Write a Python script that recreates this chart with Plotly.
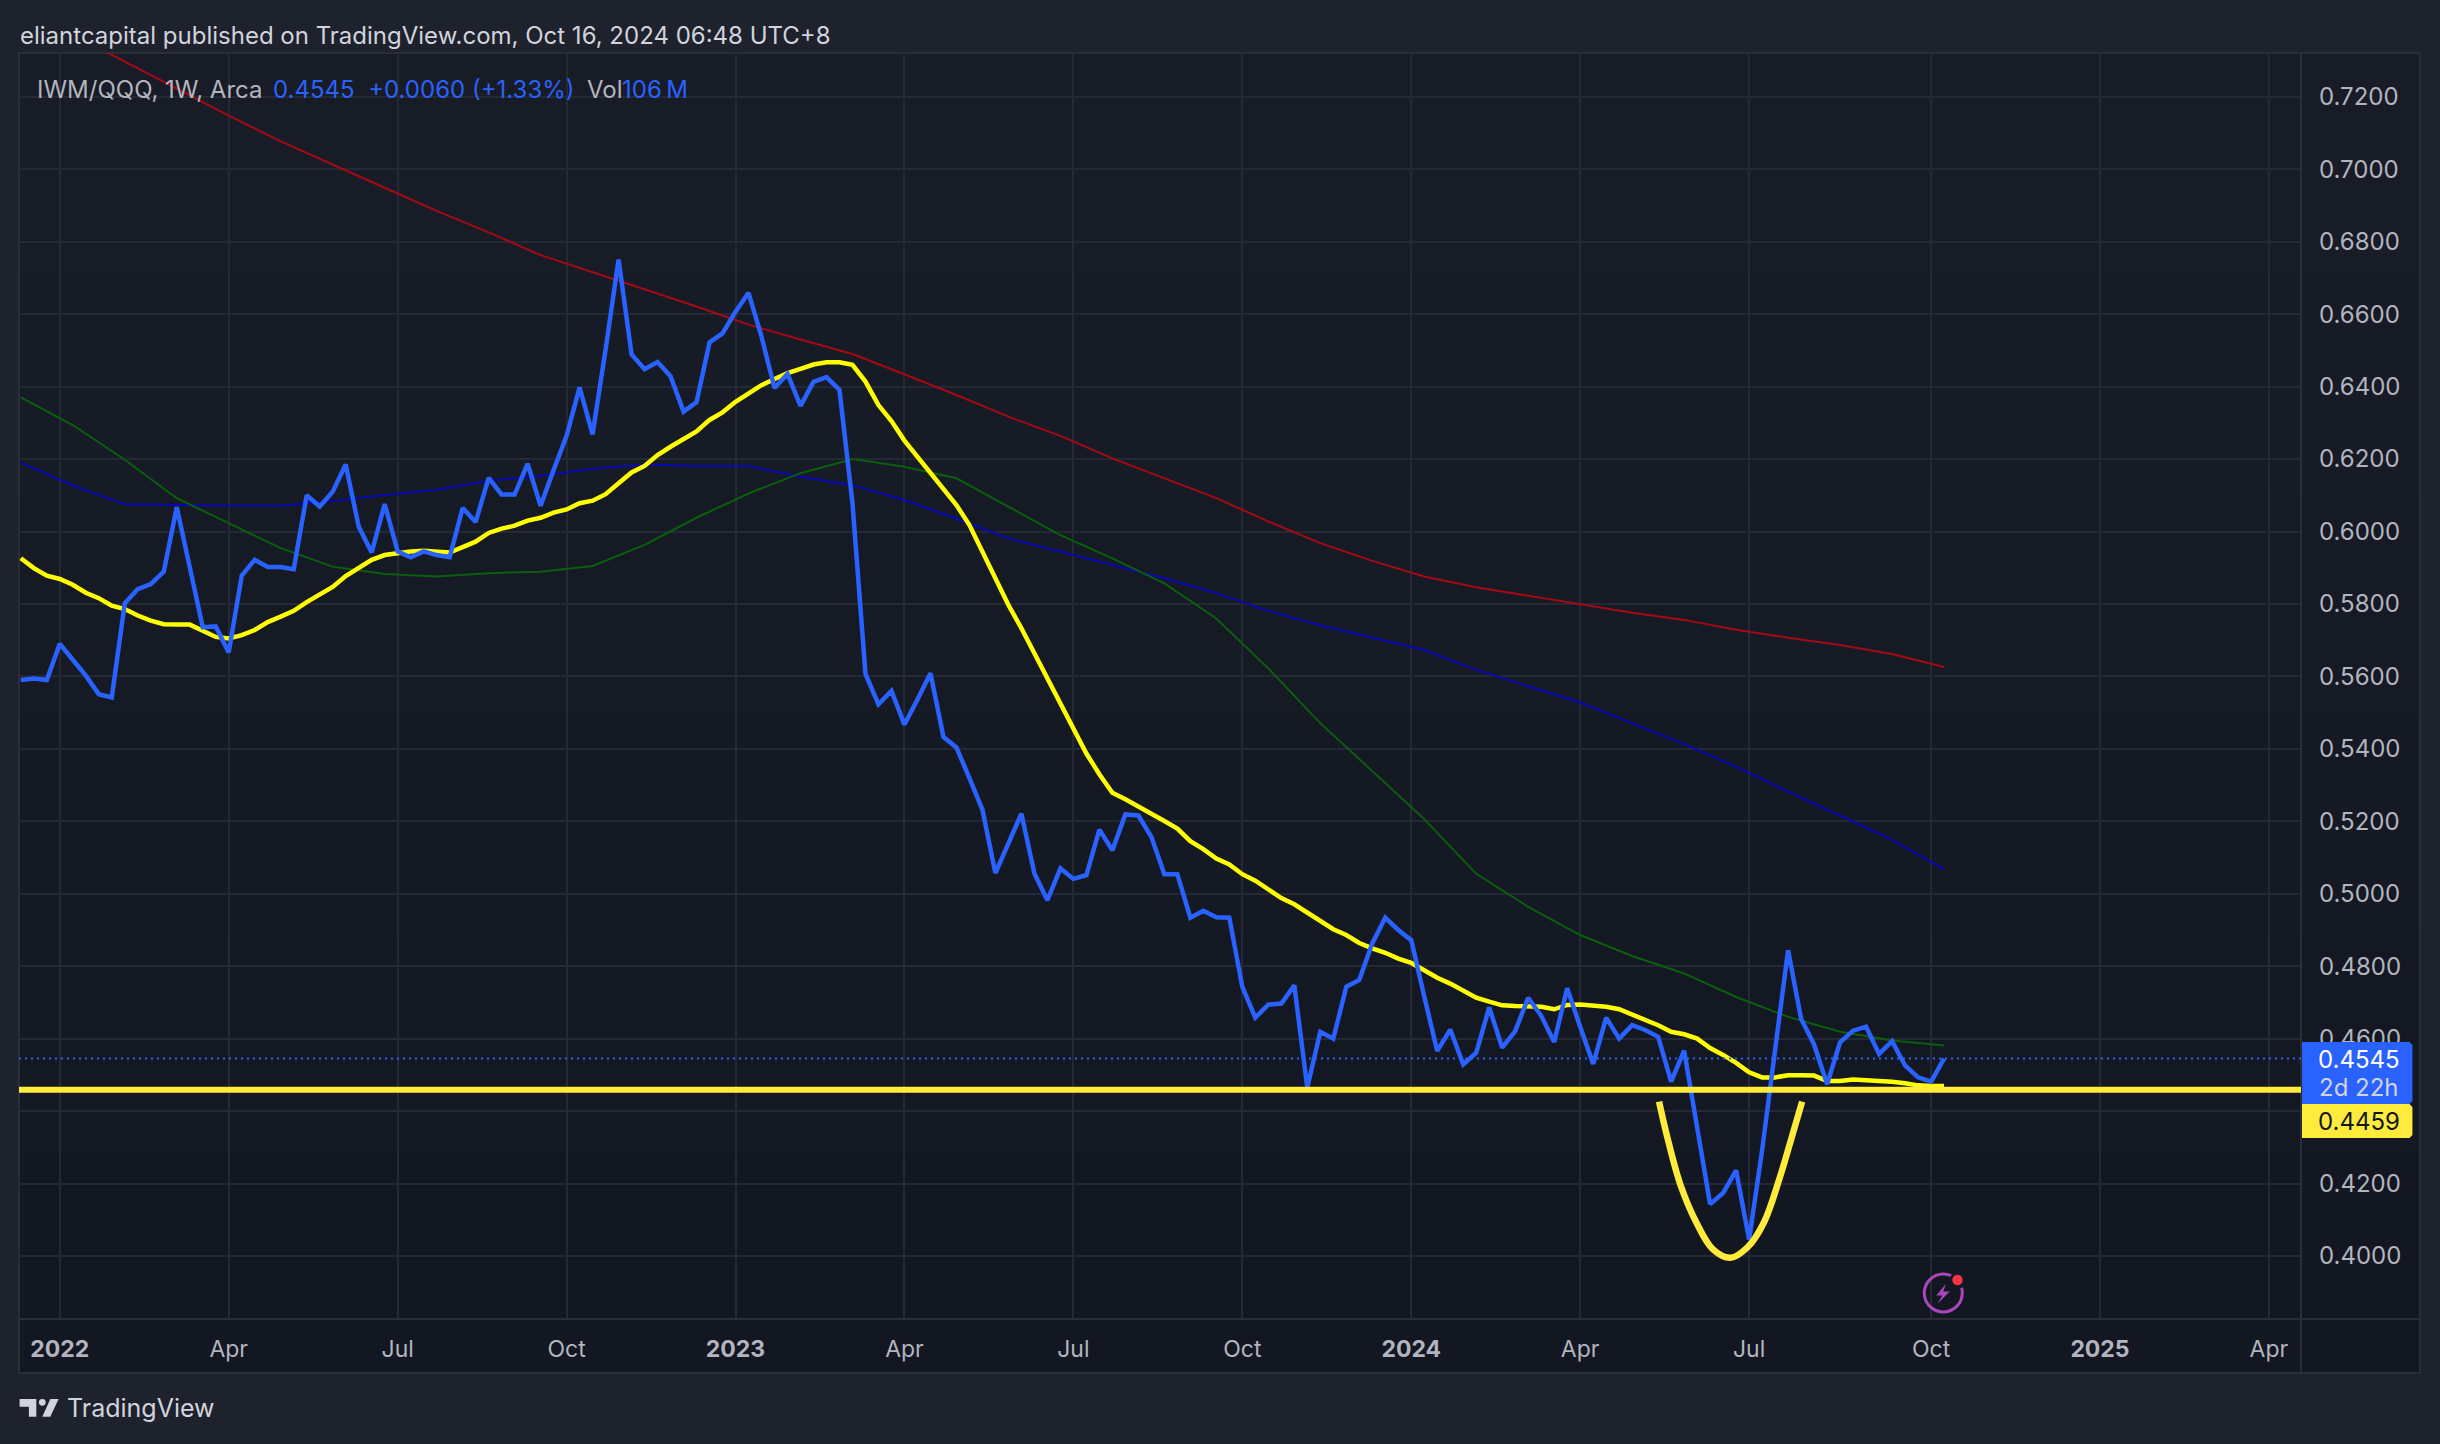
import plotly.graph_objects as go

# ---- data (week index 0 = first bar of 2022) ----
weeks = list(range(-3, 146))
price = [.559,.5594,.559,
 .569,.5646,.5602,.5551,.5542,.5802,.5841,.5855,.5889,.6067,
 .5894,.5736,.5738,.5666,.5878,.5922,.5902,.5902,.5896,.61,
 .6069,.611,.6185,.6014,.5942,.6076,.5945,.5929,.5945,.5935,
 .5929,.6065,.6026,.6148,.6102,.6102,.6187,.6071,.617,.6264,
 .6398,.6268,.6502,.6751,.6489,.6448,.6468,.6429,.6331,.6357,
 .6522,.6547,.6607,.6659,.6538,.6396,.6435,.6347,.6413,.6426,
 .6391,.6078,.5607,.5523,.556,.5467,.5536,.5609,.5433,.5404,
 .5319,.5232,.5057,.514,.5221,.5056,.4982,.507,.5041,.5051,
 .5177,.512,.5219,.5216,.5157,.5054,.5054,.4934,.4953,.4935,
 .4934,.4743,.4658,.4694,.4697,.4747,.4465,.4619,.46,.4743,
 .4762,.4863,.4934,.49,.4872,.4716,.4566,.4625,.4529,.4561,
 .4686,.4575,.4621,.4713,.4663,.4591,.4739,.4633,.453,.4658,
 .46,.4637,.4624,.4605,.4481,.4567,.4359,.4143,.4174,.4236,
 .4045,.4292,.4569,.4844,.4655,.4584,.4474,.459,.4622,.4633,
 .4558,.4593,.4526,.4493,.4481,.4545]
ma_yellow = [.5926,.5899,.5878,
 .5869,.5853,.5831,.5816,.5795,.5786,.5768,.5754,.5744,.5743,
 .5743,.5726,.5709,.5705,.5714,.5728,.575,.5765,.5781,.5805,
 .5827,.5847,.5877,.5899,.5922,.5935,.5941,.5945,.5947,.5944,
 .5942,.5957,.5972,.5996,.6008,.6016,.603,.6038,.6052,.6061,
 .6078,.6085,.6103,.6133,.6163,.6181,.6211,.6234,.6255,.6276,
 .6308,.6329,.6358,.6381,.6404,.6421,.6437,.6449,.6461,.6467,
 .6467,.646,.6414,.6349,.6305,.6251,.6207,.6165,.6119,.6073,
 .6018,.5944,.5875,.5797,.5733,.5664,.5595,.5521,.5456,.5387,
 .533,.5279,.5261,.5242,.5223,.5201,.518,.5145,.5123,.5097,
 .5081,.5054,.5036,.5013,.4988,.4971,.4947,.4923,.4902,.4886,
 .4864,.4849,.4837,.4821,.4809,.4789,.4768,.4752,.4734,.4713,
 .4702,.4692,.469,.469,.4688,.4681,.4693,.4694,.4692,.4688,
 .4681,.4667,.4653,.4637,.4619,.4612,.46,.4574,.4555,.4533,
 .4507,.4493,.4493,.4499,.4499,.4498,.4483,.4483,.4487,.4486,
 .4484,.4481,.4477,.4471,.4469,.4469]
slow_weeks = list(range(-3, 146, 4))
ma_green = [.637,.6294,.6198,.6092,.6023,.5954,.5903,.5883,.5876,.5885,.5889,.5905,.5963,
 .6038,.6105,.6161,.62,.6179,.6147,.6069,.599,.5926,.5857,.576,.5622,.5471,.5339,.5206,
 .5055,.4964,.4886,.4828,.478,.4715,.466,.4619,.4595,.4581]
ma_navy = [.619,.6127,.6075,.6072,.6071,.6071,.6084,.6101,.6115,.614,.6153,.6173,.6185,
 .6181,.6181,.6151,.6128,.6087,.6036,.5981,.5944,.5908,.5871,.583,.5781,.5741,.5708,.5673,
 .5618,.5574,.5528,.5471,.5413,.5351,.5282,.5216,.5149,.5068]
red_weeks = list(range(1, 146, 4))
ma_red = [.7372,.7297,.7222,.7148,.7077,.7014,.6949,.6885,.6826,.6763,.6717,.6669,.6621,
 .6571,.653,.649,.6434,.6377,.6317,.6264,.6202,.6147,.6092,.6028,.5968,.5919,.5876,.5846,
 .5823,.5798,.5776,.5756,.5729,.5707,.5687,.5662,.5626]
cup_weeks = [123.07,123.69,124.72,125.96,127.2,128.56,129.88,131.12,132.35,133.38,134.08]
cup_values = [.4426,.433,.4196,.4091,.4019,.3995,.4024,.4091,.4215,.434,.4426]
support = 0.4459
last_price = 0.4545

tick_weeks = [0,13,26,39,52,65,78,91,104,117,130,144,157,170]
tick_names = ["<b>2022</b>","Apr","Jul","Oct","<b>2023</b>","Apr","Jul","Oct","<b>2024</b>","Apr","Jul","Oct","<b>2025</b>","Apr"]
price_ticks = [.40,.42,.44,.46,.48,.50,.52,.54,.56,.58,.60,.62,.64,.66,.68,.70,.72]
price_names = ["0.4000","0.4200","","0.4600","0.4800","0.5000","0.5200","0.5400","0.5600","0.5800",
               "0.6000","0.6200","0.6400","0.6600","0.6800","0.7000","0.7200"]

# ---- page geometry (pixels) ----
L, R, T, B = 19.4, 2300.6, 53.0, 1319.0
FR, FB = 2419.5, 1373.0
def px(x): return (x - L) / (R - L)
def py(y): return (B - y) / (B - T)
def path(pts):
    return "M" + " L".join(f"{px(a):.5f},{py(b):.5f}" for a, b in pts) + " Z"

FONT = "Inter"
TXT = "#B2B5BE"
BLUE = "#2962FF"
YEL = "#FFEB3B"

fig = go.Figure()
fig.add_trace(go.Scatter(x=red_weeks, y=ma_red, mode="lines", line=dict(color="#A50A14", width=2)))
fig.add_trace(go.Scatter(x=slow_weeks, y=ma_navy, mode="lines", line=dict(color="#0808B4", width=2)))
fig.add_trace(go.Scatter(x=slow_weeks, y=ma_green, mode="lines", line=dict(color="#0B5E0E", width=2)))
fig.add_trace(go.Scatter(x=weeks, y=ma_yellow, mode="lines", line=dict(color="#FFFF00", width=4.5)))
fig.add_trace(go.Scatter(x=weeks, y=price, mode="lines", line=dict(color=BLUE, width=4.5)))
fig.add_trace(go.Scatter(x=cup_weeks, y=cup_values, mode="lines", line=dict(color=YEL, width=6.5, shape="spline")))

shapes = []
# panel gradient
bands = ["#181C27","#171B26","#161A25","#151924","#141823","#131722"]
h = (FB - T) / len(bands)
for k, c in enumerate(bands):
    shapes.append(dict(type="rect", xref="paper", yref="paper", layer="below", line_width=0, fillcolor=c,
                       x0=px(L), x1=px(FR), y0=py(T + k * h), y1=py(T + (k + 1) * h + 1)))
# frame
FRAME = "#2A2E39"
shapes += [
    dict(type="rect", xref="paper", yref="paper", layer="below", x0=px(L), x1=px(FR), y0=py(T), y1=py(FB),
         line=dict(color=FRAME, width=2)),
    dict(type="line", xref="paper", yref="paper", layer="above", x0=px(L), x1=px(FR), y0=py(B), y1=py(B),
         line=dict(color=FRAME, width=2)),
    dict(type="line", xref="paper", yref="paper", layer="above", x0=px(R), x1=px(R), y0=py(T), y1=py(FB),
         line=dict(color=FRAME, width=2)),
]
# price line and support line
shapes.append(dict(type="line", xref="paper", yref="y", layer="above", x0=0, x1=1, y0=last_price, y1=last_price,
                   line=dict(color=BLUE, width=2, dash="2px,4px")))
shapes.append(dict(type="line", xref="paper", yref="y", layer="above", x0=0, x1=1, y0=support, y1=support,
                   line=dict(color=YEL, width=6)))
# price badges
shapes.append(dict(type="path", xref="paper", yref="paper", layer="above", line_width=0, fillcolor=BLUE,
                   path=path([(R+1,1042),(2409,1042),(2412,1045),(2412,1101),(2409,1104),(R+1,1104)])))
shapes.append(dict(type="path", xref="paper", yref="paper", layer="above", line_width=0, fillcolor=YEL,
                   path=path([(R+1,1104),(2409,1104),(2412,1107),(2412,1135),(2409,1138),(R+1,1138)])))
# logo
LOGO = "#D1D4DC"
shapes.append(dict(type="path", xref="paper", yref="paper", layer="above", line_width=0, fillcolor=LOGO,
                   path=path([(20,1399),(36.7,1399),(36.7,1416.7),(29.3,1416.7),(29.3,1406.7),(20,1406.7)])))
shapes.append(dict(type="path", xref="paper", yref="paper", layer="above", line_width=0, fillcolor=LOGO,
                   path=path([(50.7,1399),(59,1399),(50.7,1416.7),(42.7,1416.7)])))
shapes.append(dict(type="circle", xref="paper", yref="paper", layer="above", line_width=0, fillcolor=LOGO,
                   x0=px(39.3), x1=px(46.1), y0=py(1405.7), y1=py(1398.9)))
# lightning badge
PUR = "#AB47BC"
shapes.append(dict(type="circle", xref="paper", yref="paper", layer="above", line=dict(color=PUR, width=3),
                   fillcolor="rgba(0,0,0,0)", x0=px(1924), x1=px(1962), y0=py(1312), y1=py(1274)))
shapes.append(dict(type="circle", xref="paper", yref="paper", layer="above", line_width=0, fillcolor="#141823",
                   x0=px(1949), x1=px(1966), y0=py(1289), y1=py(1272)))
shapes.append(dict(type="circle", xref="paper", yref="paper", layer="above", line_width=0, fillcolor="#F23645",
                   x0=px(1952), x1=px(1962.4), y0=py(1285.2), y1=py(1274.8)))
shapes.append(dict(type="path", xref="paper", yref="paper", layer="above", line_width=0, fillcolor=PUR,
                   path=path([(1945.5,1284),(1936,1295.5),(1942,1295.5),(1937,1304),(1949.5,1291.5),(1943,1291.5)])))

def note(x, y, text, color, size, anchor="left", ):
    return dict(xref="paper", yref="paper", x=px(x), y=py(y), text=text, showarrow=False, xanchor=anchor,
                yanchor="middle", font=dict(family=FONT, size=size, color=color), borderpad=0)

annotations = [
    note(19.5, 35.5, "eliantcapital published on TradingView.com, Oct 16, 2024 06:48 UTC+8", "#D1D4DC", 24),
    note(36, 90, "IWM/QQQ, 1W, Arca", TXT, 24),
    note(272.5, 90, "0.4545  +0.0060 (+1.33%)", BLUE, 24),
    note(586, 90, "Vol", TXT, 24),
    note(621, 90, "106\u2009M", BLUE, 24),
    note(66, 1408, "TradingView", "#D1D4DC", 25),
    note(2359, 1059, "0.4545", "#FFFFFF", 24, "center"),
    note(2359, 1087, "2d 22h", "#D1D4DC", 24, "center"),
    note(2359, 1121, "0.4459", "#131722", 24, "center"),
]

fig.update_layout(
    width=2440, height=1444,
    margin=dict(l=L, r=2440 - R, t=T, b=1444 - B, pad=0),
    paper_bgcolor="#1E222D", plot_bgcolor="rgba(0,0,0,0)",
    showlegend=False, font=dict(family=FONT, color=TXT, size=24),
    shapes=shapes, annotations=annotations, hovermode=False,
    xaxis=dict(range=[-3.14, 172.47], tickmode="array", tickvals=tick_weeks, ticktext=tick_names,
               showgrid=True, gridcolor="#252935", gridwidth=2, zeroline=False, showline=False,
               ticks="", ticklabelstandoff=14, tickfont=dict(family=FONT, size=23, color=TXT)),
    yaxis=dict(range=[.3826, .7321], side="right", tickmode="array", tickvals=price_ticks, ticktext=price_names,
               showgrid=True, gridcolor="#252935", gridwidth=2, zeroline=False, showline=False,
               ticks="", ticklabelstandoff=17, tickfont=dict(family=FONT, size=24, color=TXT)),
)
fig.write_html("out.html", post_script="document.body.style.margin='0';", config={"displayModeBar": False})
